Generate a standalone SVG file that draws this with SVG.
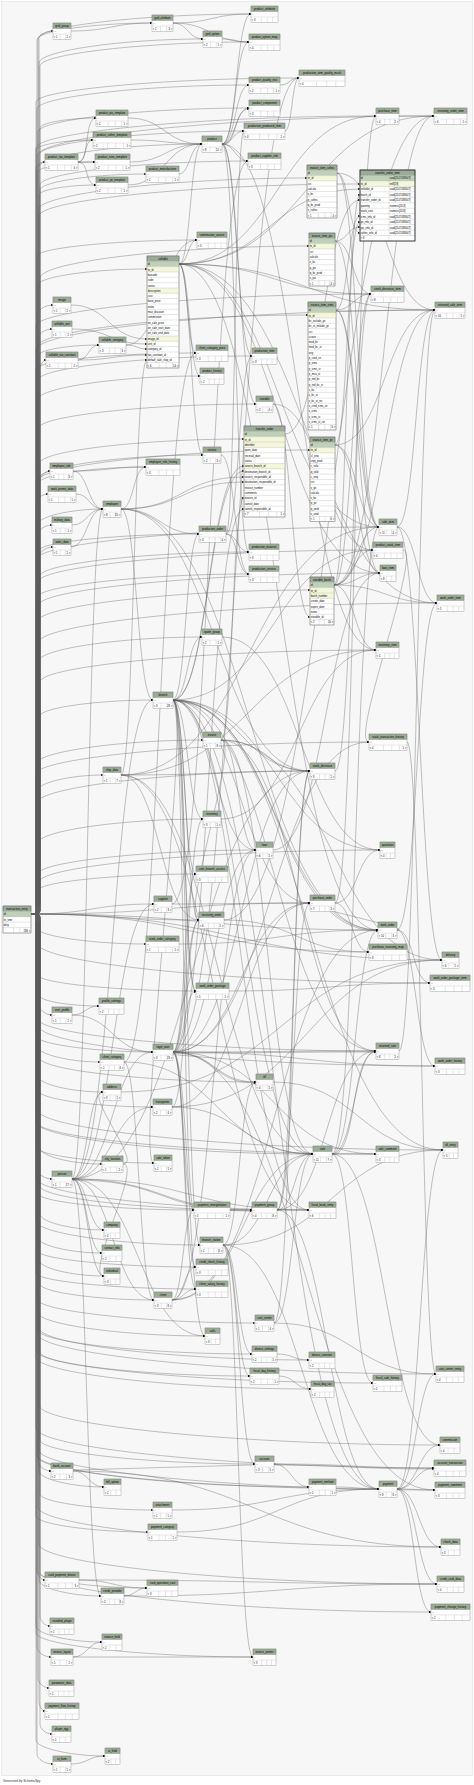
<svg xmlns="http://www.w3.org/2000/svg" width="474" height="1785" viewBox="0 0 474 1785">
<style>
.b{fill:#fff;stroke:#6f6f6f;stroke-width:.3}
.h{fill:#9bab96;stroke:#6f6f6f;stroke-width:.3}
.pk{fill:#bed1b8}
.ix{fill:#f4f7da}
.d{fill:none;stroke:#999;stroke-width:.25}
text{font-family:"Liberation Sans",Arial,sans-serif;font-size:2.6px;fill:#000}
.tn{font-size:2.8px;text-anchor:middle}
.r{text-anchor:end}
.e path{fill:none;stroke:#5e5e5e;stroke-width:.38;marker-end:url(#m)}
</style>
<defs>
<marker id="m" viewBox="0 0 4 4" refX="4" refY="2" markerWidth="2.3" markerHeight="2.3" markerUnits="userSpaceOnUse" orient="auto"><path d="M0,0L4,2L0,4z" fill="#000"/></marker>
</defs>
<rect width="474" height="1785" fill="#fff"/>
<rect x="1.5" y="1.5" width="471" height="1774" fill="#f7f7f7" stroke="#e2e2e2" stroke-width=".6"/>
<g id="edges" class="e">
<path d="M31,914C37,914 37,914 37,906L37,41C37,36 45,31 53,31"/>
<path d="M31,914C38,914 38,914 38,906L38,39C38,31 95,23 152,23"/>
<path d="M31,914C39,914 39,914 39,906L39,63C39,51 121,39 203,39"/>
<path d="M31,914C40,914 40,914 40,906L40,128C40,123 68,118 96,118"/>
<path d="M31,914C36,914 36,914 36,906L36,150C36,145 64,140 93,140"/>
<path d="M31,914C37,914 37,914 37,906L37,172C37,167 41,162 45,162"/>
<path d="M31,914C38,914 38,914 38,906L38,172C38,167 66,162 95,162"/>
<path d="M31,914C39,914 39,914 39,906L39,195C39,190 67,185 96,185"/>
<path d="M31,914C40,914 40,914 40,906L40,190C40,182 93,174 146,174"/>
<path d="M31,914C36,914 36,914 36,906L36,168C36,156 119,144 202,144"/>
<path d="M31,914C37,914 37,914 37,906L37,256C37,248 117,240 197,240"/>
<path d="M31,914C38,914 38,914 38,906L38,285C38,277 92,269 147,269"/>
<path d="M31,914C39,914 39,914 39,906L39,38C39,26 145,14 251,14"/>
<path d="M31,914C40,914 40,914 40,906L40,66C40,54 144,42 249,42"/>
<path d="M31,914C36,914 36,914 36,906L36,102C36,90 167,78 299,78"/>
<path d="M31,914C37,914 37,914 37,906L37,109C37,97 143,85 249,85"/>
<path d="M31,914C38,914 38,914 38,906L38,132C38,120 143,108 249,108"/>
<path d="M31,914C39,914 39,914 39,906L39,155C39,143 141,131 244,131"/>
<path d="M31,914C40,914 40,914 40,906L40,185C40,173 144,161 248,161"/>
<path d="M31,914C36,914 36,914 36,906L36,148C36,132 206,116 376,116"/>
<path d="M31,914C37,914 37,914 37,906L37,156C37,136 235,116 434,116"/>
<path d="M31,914C38,914 38,914 38,906L38,210C38,194 172,178 307,178"/>
<path d="M31,914C39,914 39,914 39,906L39,216C39,200 199,184 360,184"/>
<path d="M31,914C40,914 40,914 40,906L40,278C40,262 174,246 309,246"/>
<path d="M31,914C36,914 36,914 36,906L36,326C36,310 203,294 371,294"/>
<path d="M31,914C37,914 37,914 37,906L37,315C37,310 45,305 53,305"/>
<path d="M31,914C38,914 38,914 38,906L38,339C38,334 45,329 52,329"/>
<path d="M31,914C39,914 39,914 39,906L39,355C39,350 69,345 99,345"/>
<path d="M31,914C40,914 40,914 40,906L40,370C40,365 43,360 46,360"/>
<path d="M31,914C36,914 36,914 36,906L36,369C36,361 116,353 196,353"/>
<path d="M31,914C37,914 37,914 37,906L37,400C37,388 118,376 200,376"/>
<path d="M31,914C38,914 38,914 38,906L38,479C38,467 120,455 203,455"/>
<path d="M31,914C39,914 39,914 39,906L39,483C39,475 92,467 146,467"/>
<path d="M31,914C40,914 40,914 40,906L40,481C40,476 45,471 50,471"/>
<path d="M31,914C36,914 36,914 36,906L36,504C36,499 42,494 48,494"/>
<path d="M31,914C37,914 37,914 37,906L37,525C37,517 70,509 103,509"/>
<path d="M31,914C38,914 38,914 38,906L38,535C38,530 45,525 52,525"/>
<path d="M31,914C39,914 39,914 39,906L39,557C39,552 46,547 53,547"/>
<path d="M31,914C40,914 40,914 40,906L40,550C40,542 120,534 199,534"/>
<path d="M31,914C36,914 36,914 36,906L36,350C36,330 236,310 435,310"/>
<path d="M31,914C37,914 37,914 37,906L37,347C37,331 173,315 308,315"/>
<path d="M31,914C38,914 38,914 38,906L38,380C38,368 145,356 252,356"/>
<path d="M31,914C39,914 39,914 39,906L39,428C39,416 148,404 256,404"/>
<path d="M31,914C40,914 40,914 40,906L40,463C40,451 142,439 244,439"/>
<path d="M31,914C36,914 36,914 36,906L36,482C36,466 173,450 310,450"/>
<path d="M31,914C37,914 37,914 37,906L37,559C37,543 208,527 379,527"/>
<path d="M31,914C38,914 38,914 38,906L38,582C38,566 206,550 373,550"/>
<path d="M31,914C39,914 39,914 39,906L39,605C39,589 210,573 380,573"/>
<path d="M31,914C40,914 40,914 40,906L40,576C40,564 145,552 249,552"/>
<path d="M31,914C36,914 36,914 36,906L36,598C36,586 143,574 249,574"/>
<path d="M31,914C37,914 37,914 37,906L37,622C37,606 174,590 310,590"/>
<path d="M31,914C38,914 38,914 38,906L38,643C38,623 238,603 437,603"/>
<path d="M31,914C39,914 39,914 39,906L39,661C39,649 121,637 202,637"/>
<path d="M31,914C40,914 40,914 40,906L40,716C40,708 97,700 153,700"/>
<path d="M31,914C36,914 36,914 36,906L36,764C36,752 120,740 203,740"/>
<path d="M31,914C37,914 37,914 37,906L37,791C37,783 70,775 103,775"/>
<path d="M31,914C38,914 38,914 38,906L38,843C38,831 121,819 203,819"/>
<path d="M31,914C39,914 39,914 39,906L39,890C39,882 118,874 196,874"/>
<path d="M31,914C92,914 92,904 154,904"/>
<path d="M31,914C40,914 40,914 40,906L40,682C40,666 208,650 376,650"/>
<path d="M31,914C36,914 36,914 36,906L36,774C36,758 203,742 369,742"/>
<path d="M31,914C37,914 37,914 37,906L37,803C37,787 174,771 310,771"/>
<path d="M31,914C38,914 38,914 38,906L38,874C38,862 147,850 256,850"/>
<path d="M31,914C39,914 39,914 39,906L39,882C39,866 210,850 380,850"/>
<path d="M31,914C170,914 170,903 310,903"/>
<path d="M31,914C115,914 115,920 199,920"/>
<path d="M31,914C37,914 37,914 37,922L37,928C37,936 92,944 146,944"/>
<path d="M31,914C38,914 38,914 38,922L38,975C38,983 117,991 196,991"/>
<path d="M31,914C39,914 39,914 39,922L39,1005C39,1010 46,1015 52,1015"/>
<path d="M31,914C40,914 40,914 40,922L40,996C40,1001 70,1006 99,1006"/>
<path d="M31,914C36,914 36,914 36,922L36,1036C36,1044 95,1052 153,1052"/>
<path d="M31,914C37,914 37,914 37,922L37,1046C37,1054 69,1062 100,1062"/>
<path d="M31,914C38,914 38,914 38,922L38,1076C38,1084 71,1092 103,1092"/>
<path d="M31,914C39,914 39,914 39,922L39,1091C39,1099 96,1107 153,1107"/>
<path d="M31,914C40,914 40,914 40,922L40,1148C40,1156 71,1164 102,1164"/>
<path d="M31,914C36,914 36,914 36,922L36,1147C36,1155 95,1163 154,1163"/>
<path d="M31,914C37,914 37,914 37,922L37,1169C37,1174 45,1179 52,1179"/>
<path d="M31,914C205,914 205,930 378,930"/>
<path d="M31,914C200,914 200,952 369,952"/>
<path d="M31,914C237,914 237,960 442,960"/>
<path d="M31,914C37,914 37,914 37,922L37,943C37,963 234,983 430,983"/>
<path d="M31,914C38,914 38,914 38,922L38,1019C38,1035 207,1051 376,1051"/>
<path d="M31,914C39,914 39,914 39,922L39,1026C39,1046 237,1066 435,1066"/>
<path d="M31,914C40,914 40,914 40,922L40,1058C40,1070 148,1082 256,1082"/>
<path d="M31,914C36,914 36,914 36,922L36,1122C36,1138 175,1154 313,1154"/>
<path d="M31,914C37,914 37,914 37,922L37,1122C37,1138 207,1154 376,1154"/>
<path d="M31,914C38,914 38,914 38,922L38,1110C38,1130 241,1150 443,1150"/>
<path d="M31,914C39,914 39,914 39,922L39,1194C39,1202 117,1210 194,1210"/>
<path d="M31,914C40,914 40,914 40,922L40,1214C40,1222 72,1230 104,1230"/>
<path d="M31,914C36,914 36,914 36,922L36,1221C36,1233 118,1245 200,1245"/>
<path d="M31,914C37,914 37,914 37,922L37,1237C37,1245 70,1253 102,1253"/>
<path d="M31,914C38,914 38,914 38,922L38,1251C38,1259 117,1267 196,1267"/>
<path d="M31,914C39,914 39,914 39,922L39,1260C39,1268 72,1276 104,1276"/>
<path d="M31,914C40,914 40,914 40,922L40,1284C40,1292 97,1300 154,1300"/>
<path d="M31,914C36,914 36,914 36,922L36,1273C36,1281 116,1289 196,1289"/>
<path d="M31,914C37,914 37,914 37,922L37,1312C37,1324 121,1336 205,1336"/>
<path d="M31,914C38,914 38,914 38,922L38,1461C38,1466 45,1471 51,1471"/>
<path d="M31,914C39,914 39,914 39,922L39,1471C39,1479 72,1487 104,1487"/>
<path d="M31,914C40,914 40,914 40,922L40,1186C40,1198 146,1210 252,1210"/>
<path d="M31,914C36,914 36,914 36,922L36,1178C36,1194 173,1210 309,1210"/>
<path d="M31,914C37,914 37,914 37,922L37,1299C37,1311 146,1323 255,1323"/>
<path d="M31,914C38,914 38,914 38,922L38,1330C38,1342 145,1354 252,1354"/>
<path d="M31,914C39,914 39,914 39,922L39,1328C39,1344 174,1360 309,1360"/>
<path d="M31,914C40,914 40,914 40,922L40,1352C40,1364 145,1376 250,1376"/>
<path d="M31,914C36,914 36,914 36,922L36,1357C36,1373 174,1389 311,1389"/>
<path d="M31,914C37,914 37,914 37,922L37,1351C37,1367 205,1383 373,1383"/>
<path d="M31,914C38,914 38,914 38,922L38,1334C38,1354 237,1374 436,1374"/>
<path d="M31,914C39,914 39,914 39,922L39,1405C39,1425 240,1445 440,1445"/>
<path d="M31,914C40,914 40,914 40,922L40,1440C40,1452 148,1464 255,1464"/>
<path d="M31,914C36,914 36,914 36,922L36,1428C36,1448 235,1468 434,1468"/>
<path d="M31,914C37,914 37,914 37,922L37,1455C37,1471 173,1487 309,1487"/>
<path d="M31,914C38,914 38,914 38,922L38,1457C38,1473 209,1489 379,1489"/>
<path d="M31,914C39,914 39,914 39,922L39,1450C39,1470 237,1490 435,1490"/>
<path d="M31,914C40,914 40,914 40,922L40,1494C40,1502 97,1510 153,1510"/>
<path d="M31,914C36,914 36,914 36,922L36,1516C36,1524 92,1532 148,1532"/>
<path d="M31,914C37,914 37,914 37,922L37,1570C37,1575 41,1580 45,1580"/>
<path d="M31,914C38,914 38,914 38,922L38,1572C38,1580 93,1588 147,1588"/>
<path d="M31,914C39,914 39,914 39,922L39,1580C39,1588 70,1596 101,1596"/>
<path d="M31,914C40,914 40,914 40,922L40,1616C40,1621 45,1626 50,1626"/>
<path d="M31,914C36,914 36,914 36,922L36,1626C36,1634 69,1642 102,1642"/>
<path d="M31,914C37,914 37,914 37,922L37,1647C37,1652 44,1657 51,1657"/>
<path d="M31,914C38,914 38,914 38,922L38,1678C38,1683 44,1688 49,1688"/>
<path d="M31,914C39,914 39,914 39,922L39,1701C39,1706 42,1711 45,1711"/>
<path d="M31,914C40,914 40,914 40,922L40,1724C40,1729 46,1734 52,1734"/>
<path d="M31,914C36,914 36,914 36,922L36,1740C36,1748 71,1756 105,1756"/>
<path d="M31,914C37,914 37,914 37,922L37,1754C37,1759 45,1764 53,1764"/>
<path d="M31,914C38,914 38,914 38,922L38,1507C38,1527 240,1547 441,1547"/>
<path d="M31,914C39,914 39,914 39,922L39,1544C39,1564 238,1584 437,1584"/>
<path d="M31,914C40,914 40,914 40,922L40,1572C40,1592 236,1612 431,1612"/>
<path d="M31,914C36,914 36,914 36,922L36,1633C36,1645 145,1657 253,1657"/>
<path d="M71,31C111,31 112,23 152,23"/>
<path d="M173,23C188,23 188,39 203,39"/>
<path d="M173,23C212,23 212,14 251,14"/>
<path d="M173,23C211,23 211,42 249,42"/>
<path d="M222,39C236,39 236,42 249,42"/>
<path d="M222,144C237,144 236,14 251,14"/>
<path d="M222,144C236,144 235,42 249,42"/>
<path d="M222,144C236,144 235,85 249,85"/>
<path d="M222,144C236,144 235,108 249,108"/>
<path d="M222,145C238,145 233,109 249,109"/>
<path d="M222,144C233,144 233,131 244,131"/>
<path d="M222,144C235,144 235,161 248,161"/>
<path d="M222,144C237,144 237,356 252,356"/>
<path d="M222,144C239,144 239,404 256,404"/>
<path d="M222,144C236,144 235,552 249,552"/>
<path d="M222,144C299,144 299,650 376,650"/>
<path d="M78,162C90,162 84,118 96,118"/>
<path d="M78,162C88,162 83,140 93,140"/>
<path d="M78,162C87,162 86,162 95,162"/>
<path d="M78,162C90,162 84,185 96,185"/>
<path d="M128,118C165,118 165,144 202,144"/>
<path d="M131,140C166,140 167,144 202,144"/>
<path d="M130,162C166,162 166,144 202,144"/>
<path d="M128,185C165,185 165,144 202,144"/>
<path d="M179,174C190,174 190,144 202,144"/>
<path d="M179,264C191,264 190,144 202,144"/>
<path d="M179,264C188,264 188,240 197,240"/>
<path d="M179,264C188,264 187,353 196,353"/>
<path d="M179,264C190,264 189,376 200,376"/>
<path d="M179,264C191,264 191,455 203,455"/>
<path d="M179,264C277,264 278,116 376,116"/>
<path d="M179,264C306,264 307,116 434,116"/>
<path d="M179,264C270,264 270,189 360,189"/>
<path d="M179,264C275,264 275,294 371,294"/>
<path d="M179,264C307,264 307,310 435,310"/>
<path d="M179,264C279,264 279,527 379,527"/>
<path d="M179,264C280,264 280,573 380,573"/>
<path d="M179,264C308,264 308,603 437,603"/>
<path d="M179,264C279,264 278,930 378,930"/>
<path d="M71,305C109,305 109,339 147,339"/>
<path d="M72,329C110,329 109,344 147,344"/>
<path d="M126,345C137,345 137,349 147,349"/>
<path d="M78,360C113,360 112,355 147,355"/>
<path d="M78,360C89,360 88,345 99,345"/>
<path d="M121,775C134,775 134,360 147,360"/>
<path d="M126,345C162,345 161,240 197,240"/>
<path d="M285,131C292,131 292,78 299,78"/>
<path d="M280,85C290,85 289,78 299,78"/>
<path d="M399,116C417,116 417,116 434,116"/>
<path d="M337,173C349,173 348,233 360,233"/>
<path d="M335,241C348,241 347,227 360,227"/>
<path d="M336,310C348,310 348,216 360,216"/>
<path d="M335,445C348,445 347,222 360,222"/>
<path d="M285,434C322,434 323,200 360,200"/>
<path d="M334,585C347,585 347,195 360,195"/>
<path d="M273,404C291,404 292,617 310,617"/>
<path d="M273,404C323,404 323,550 373,550"/>
<path d="M334,585C356,585 357,527 379,527"/>
<path d="M334,585C353,585 353,550 373,550"/>
<path d="M334,585C357,585 357,573 380,573"/>
<path d="M334,585C355,585 355,650 376,650"/>
<path d="M334,585C352,585 353,294 371,294"/>
<path d="M334,585C384,585 385,310 435,310"/>
<path d="M334,585C384,585 384,116 434,116"/>
<path d="M334,585C385,585 386,603 437,603"/>
<path d="M336,310C357,310 358,527 379,527"/>
<path d="M336,311C386,311 385,310 435,310"/>
<path d="M336,310C353,310 354,294 371,294"/>
<path d="M336,310C358,310 358,573 380,573"/>
<path d="M335,445C357,445 357,527 379,527"/>
<path d="M335,445C385,445 385,310 435,310"/>
<path d="M335,445C357,445 358,573 380,573"/>
<path d="M335,241C357,241 357,527 379,527"/>
<path d="M335,241C353,241 353,294 371,294"/>
<path d="M337,173C358,173 358,527 379,527"/>
<path d="M337,173C386,173 386,310 435,310"/>
<path d="M397,527C416,527 416,310 435,310"/>
<path d="M397,527C417,527 417,603 437,603"/>
<path d="M397,527C420,527 420,960 442,960"/>
<path d="M403,550C423,550 349,742 369,742"/>
<path d="M73,471C110,471 109,467 146,467"/>
<path d="M73,471C88,471 88,509 103,509"/>
<path d="M76,494C90,494 89,509 103,509"/>
<path d="M72,525C88,525 87,509 103,509"/>
<path d="M71,547C87,547 87,509 103,509"/>
<path d="M121,509C134,509 133,467 146,467"/>
<path d="M121,509C160,509 160,534 199,534"/>
<path d="M121,509C183,509 182,477 244,477"/>
<path d="M121,509C183,509 182,482 244,482"/>
<path d="M121,509C216,509 215,771 310,771"/>
<path d="M121,509C137,509 137,700 153,700"/>
<path d="M121,509C250,509 249,930 378,930"/>
<path d="M226,534C235,534 235,131 244,131"/>
<path d="M226,534C239,534 239,356 252,356"/>
<path d="M226,534C238,534 237,552 249,552"/>
<path d="M226,534C238,534 237,574 249,574"/>
<path d="M221,455C235,455 235,574 249,574"/>
<path d="M173,700C209,700 208,466 244,466"/>
<path d="M173,700C209,700 208,471 244,471"/>
<path d="M173,700C273,700 273,550 373,550"/>
<path d="M173,700C188,700 187,637 202,637"/>
<path d="M173,700C188,700 188,819 203,819"/>
<path d="M173,700C185,700 184,874 196,874"/>
<path d="M173,700C242,700 241,771 310,771"/>
<path d="M173,700C215,700 214,850 256,850"/>
<path d="M173,700C277,700 276,850 380,850"/>
<path d="M173,700C242,700 241,903 310,903"/>
<path d="M173,700C186,700 186,920 199,920"/>
<path d="M173,700C185,700 184,991 196,991"/>
<path d="M173,701C187,701 182,992 196,992"/>
<path d="M173,700C243,700 243,1154 313,1154"/>
<path d="M173,700C275,700 274,1051 376,1051"/>
<path d="M173,700C276,700 275,930 378,930"/>
<path d="M173,701C280,701 270,931 378,931"/>
<path d="M173,700C187,700 186,1245 200,1245"/>
<path d="M173,700C276,700 276,1489 379,1489"/>
<path d="M173,700C241,700 241,1210 309,1210"/>
<path d="M173,700C184,700 183,1210 194,1210"/>
<path d="M173,700C186,700 186,534 199,534"/>
<path d="M173,700C193,700 134,1163 154,1163"/>
<path d="M173,700C308,700 308,1150 443,1150"/>
<path d="M221,740C233,740 232,498 244,498"/>
<path d="M221,740C267,740 267,1154 313,1154"/>
<path d="M221,740C266,740 265,771 310,771"/>
<path d="M221,740C239,740 238,850 256,850"/>
<path d="M221,740C299,740 298,1051 376,1051"/>
<path d="M221,740C332,740 331,960 442,960"/>
<path d="M221,740C241,740 179,920 199,920"/>
<path d="M121,775C217,775 217,1154 313,1154"/>
<path d="M121,775C216,775 215,771 310,771"/>
<path d="M121,775C160,775 160,920 199,920"/>
<path d="M121,775C249,775 248,650 376,650"/>
<path d="M121,775C215,775 215,1210 309,1210"/>
<path d="M121,775C250,775 250,527 379,527"/>
<path d="M221,819C299,819 298,650 376,650"/>
<path d="M172,904C241,904 241,903 310,903"/>
<path d="M172,904C210,904 210,161 248,161"/>
<path d="M222,637C301,637 301,850 380,850"/>
<path d="M335,903C356,903 355,116 376,116"/>
<path d="M335,903C358,903 357,850 380,850"/>
<path d="M335,903C352,903 352,952 369,952"/>
<path d="M224,920C329,920 329,116 434,116"/>
<path d="M224,920C297,920 296,952 369,952"/>
<path d="M335,771C353,771 353,294 371,294"/>
<path d="M273,850C327,850 326,573 380,573"/>
<path d="M179,944C279,944 278,930 378,930"/>
<path d="M229,991C330,991 329,983 430,983"/>
<path d="M397,930C417,930 417,603 437,603"/>
<path d="M397,930C414,930 413,983 430,983"/>
<path d="M397,930C416,930 416,1066 435,1066"/>
<path d="M397,930C417,930 290,903 310,903"/>
<path d="M72,1015C86,1015 85,1006 99,1006"/>
<path d="M72,1015C113,1015 112,1052 153,1052"/>
<path d="M173,1052C188,1052 188,819 203,819"/>
<path d="M173,1052C185,1052 184,874 196,874"/>
<path d="M173,1052C242,1052 241,771 310,771"/>
<path d="M173,1052C209,1052 208,509 244,509"/>
<path d="M173,1052C275,1052 274,1051 376,1051"/>
<path d="M173,1053C275,1053 274,1052 376,1052"/>
<path d="M173,1052C304,1052 304,1066 435,1066"/>
<path d="M173,1052C275,1052 274,1154 376,1154"/>
<path d="M173,1052C304,1052 304,1490 435,1490"/>
<path d="M173,1052C215,1052 214,1082 256,1082"/>
<path d="M173,1053C218,1053 211,1083 256,1083"/>
<path d="M173,1052C189,1052 189,1336 205,1336"/>
<path d="M173,1052C185,1052 184,1267 196,1267"/>
<path d="M173,1052C185,1052 184,1289 196,1289"/>
<path d="M173,1052C236,1052 236,78 299,78"/>
<path d="M173,1052C271,1052 271,742 369,742"/>
<path d="M173,1052C242,1052 241,903 310,903"/>
<path d="M173,1052C186,1052 186,920 199,920"/>
<path d="M173,1052C215,1052 214,850 256,850"/>
<path d="M173,1052C184,1052 183,1210 194,1210"/>
<path d="M173,1052C185,1052 184,991 196,991"/>
<path d="M124,1062C160,1062 160,353 196,353"/>
<path d="M124,1062C139,1062 139,1300 154,1300"/>
<path d="M124,1062C219,1062 218,1154 313,1154"/>
<path d="M121,1092C282,1092 281,960 442,960"/>
<path d="M123,1164C143,1164 83,1092 103,1092"/>
<path d="M123,1164C143,1164 84,1276 104,1276"/>
<path d="M172,1107C241,1107 241,903 310,903"/>
<path d="M172,1107C186,1107 185,920 199,920"/>
<path d="M172,1107C243,1107 242,1154 313,1154"/>
<path d="M172,1107C307,1107 307,960 442,960"/>
<path d="M72,1179C88,1179 87,509 103,509"/>
<path d="M72,1179C113,1179 113,904 154,904"/>
<path d="M72,1179C113,1179 112,700 153,700"/>
<path d="M72,1179C113,1179 112,1052 153,1052"/>
<path d="M72,1179C88,1179 87,1092 103,1092"/>
<path d="M72,1179C113,1179 112,1107 153,1107"/>
<path d="M72,1179C88,1179 88,1230 104,1230"/>
<path d="M72,1179C87,1179 87,1253 102,1253"/>
<path d="M72,1179C88,1179 88,1276 104,1276"/>
<path d="M72,1179C113,1179 113,1300 154,1300"/>
<path d="M72,1179C139,1179 138,1336 205,1336"/>
<path d="M72,1179C162,1179 162,1210 252,1210"/>
<path d="M72,1180C165,1180 159,1211 252,1211"/>
<path d="M72,1179C87,1179 86,1596 101,1596"/>
<path d="M72,1179C191,1179 191,771 310,771"/>
<path d="M72,1179C191,1179 190,1210 309,1210"/>
<path d="M172,1300C243,1300 242,1154 313,1154"/>
<path d="M172,1300C214,1300 214,850 256,850"/>
<path d="M172,1300C275,1300 275,930 378,930"/>
<path d="M172,1300C183,1300 183,1210 194,1210"/>
<path d="M172,1300C184,1300 184,1267 196,1267"/>
<path d="M172,1300C184,1300 184,1289 196,1289"/>
<path d="M332,1154C356,1154 355,527 379,527"/>
<path d="M332,1154C354,1154 354,1154 376,1154"/>
<path d="M332,1154C354,1154 354,1051 376,1051"/>
<path d="M332,1155C358,1155 350,1052 376,1052"/>
<path d="M332,1154C353,1154 352,1383 373,1383"/>
<path d="M332,1154C386,1154 386,1445 440,1445"/>
<path d="M332,1154C355,1154 355,930 378,930"/>
<path d="M399,1051C417,1051 417,310 435,310"/>
<path d="M273,1082C358,1082 358,1150 443,1150"/>
<path d="M223,1245C240,1245 239,1082 256,1082"/>
<path d="M223,1245C238,1245 237,1354 252,1354"/>
<path d="M223,1245C237,1245 236,1376 250,1376"/>
<path d="M223,1245C238,1245 238,1657 253,1657"/>
<path d="M223,1245C239,1245 239,1464 255,1464"/>
<path d="M223,1245C301,1245 301,1489 379,1489"/>
<path d="M223,1245C333,1245 333,1150 443,1150"/>
<path d="M223,1245C268,1245 268,1154 313,1154"/>
<path d="M277,1210C328,1210 328,1489 379,1489"/>
<path d="M277,1210C295,1210 295,1154 313,1154"/>
<path d="M277,1210C294,1210 293,903 310,903"/>
<path d="M277,1210C294,1210 293,771 310,771"/>
<path d="M277,1210C327,1210 326,1051 376,1051"/>
<path d="M277,1210C293,1210 293,1210 309,1210"/>
<path d="M230,1210C241,1210 241,1210 252,1210"/>
<path d="M274,1323C355,1323 355,1374 436,1374"/>
<path d="M274,1323C293,1323 293,1154 313,1154"/>
<path d="M274,1323C292,1323 292,771 310,771"/>
<path d="M277,1354C293,1354 293,1360 309,1360"/>
<path d="M279,1376C295,1376 295,1389 311,1389"/>
<path d="M274,1464C354,1464 354,1468 434,1468"/>
<path d="M274,1465C356,1465 352,1469 434,1469"/>
<path d="M274,1464C291,1464 292,1487 309,1487"/>
<path d="M274,1464C300,1464 25,1471 51,1471"/>
<path d="M73,1471C88,1471 89,1487 104,1487"/>
<path d="M73,1471C257,1471 257,1547 441,1547"/>
<path d="M336,1487C357,1487 358,1489 379,1489"/>
<path d="M397,1489C416,1489 416,1490 435,1490"/>
<path d="M397,1489C419,1489 419,1547 441,1547"/>
<path d="M397,1489C417,1489 417,1584 437,1584"/>
<path d="M397,1489C414,1489 414,1612 431,1612"/>
<path d="M397,1489C418,1489 419,1445 440,1445"/>
<path d="M397,1489C415,1489 416,1468 434,1468"/>
<path d="M397,1489C420,1489 420,1150 443,1150"/>
<path d="M397,1489C416,1489 417,1374 436,1374"/>
<path d="M172,1510C275,1510 276,1489 379,1489"/>
<path d="M177,1532C278,1532 278,1489 379,1489"/>
<path d="M79,1580C113,1580 113,1588 147,1588"/>
<path d="M79,1580C258,1580 258,1584 437,1584"/>
<path d="M124,1596C135,1596 136,1588 147,1588"/>
<path d="M124,1596C280,1596 281,1584 437,1584"/>
<path d="M73,1657C87,1657 88,1642 102,1642"/>
<path d="M73,1657C163,1657 163,1657 253,1657"/>
<path d="M71,1764C88,1764 88,1756 105,1756"/>
<path d="M407,742C421,742 422,1374 436,1374"/>
</g>
<g id="nodes">
<g id="grid_group" transform="translate(53,23)"><rect class="b" width="18" height="16.5"/><rect class="h" width="18" height="5.5"/><path class="d" d="M0,11H18M7.2,11V16.5M12.6,11V16.5"/><text class="tn" x="9" y="4.1">grid_group</text><text x=".8" y="9.3">...</text><text x=".8" y="15">&lt; 1</text><text class="r" x="17.2" y="15">2 &gt;</text></g>
<g id="grid_attribute" transform="translate(152,15)"><rect class="b" width="21" height="16.5"/><rect class="h" width="21" height="5.5"/><path class="d" d="M0,11H21M8.4,11V16.5M14.7,11V16.5"/><text class="tn" x="10.5" y="4.1">grid_attribute</text><text x=".8" y="9.3">...</text><text x=".8" y="15">&lt; 2</text><text class="r" x="20.2" y="15">3 &gt;</text></g>
<g id="grid_option" transform="translate(203,31)"><rect class="b" width="19" height="16.5"/><rect class="h" width="19" height="5.5"/><path class="d" d="M0,11H19M7.6,11V16.5M13.3,11V16.5"/><text class="tn" x="9.5" y="4.1">grid_option</text><text x=".8" y="9.3">...</text><text x=".8" y="15">&lt; 2</text><text class="r" x="18.2" y="15">1 &gt;</text></g>
<g id="product_pis_template" transform="translate(96,110)"><rect class="b" width="32" height="16.5"/><rect class="h" width="32" height="5.5"/><path class="d" d="M0,11H32M12.2,11V16.5M19.2,11V16.5M25.6,11V16.5"/><text class="tn" x="16" y="4.1">product_pis_template</text><text x=".8" y="9.3">...</text><text x=".8" y="15">&lt; 2</text><text class="r" x="31.2" y="15">1 &gt;</text></g>
<g id="product_cofins_template" transform="translate(93,132)"><rect class="b" width="38" height="16.5"/><rect class="h" width="38" height="5.5"/><path class="d" d="M0,11H38M14.4,11V16.5M22.8,11V16.5M30.4,11V16.5"/><text class="tn" x="19" y="4.1">product_cofins_template</text><text x=".8" y="9.3">...</text><text x=".8" y="15">&lt; 2</text><text class="r" x="37.2" y="15">1 &gt;</text></g>
<g id="product_tax_template" transform="translate(45,154)"><rect class="b" width="33" height="16.5"/><rect class="h" width="33" height="5.5"/><path class="d" d="M0,11H33M12.5,11V16.5M19.8,11V16.5M26.4,11V16.5"/><text class="tn" x="16.5" y="4.1">product_tax_template</text><text x=".8" y="9.3">...</text><text x=".8" y="15">&lt; 1</text><text class="r" x="32.2" y="15">4 &gt;</text></g>
<g id="product_icms_template" transform="translate(95,154)"><rect class="b" width="35" height="16.5"/><rect class="h" width="35" height="5.5"/><path class="d" d="M0,11H35M13.3,11V16.5M21,11V16.5M28,11V16.5"/><text class="tn" x="17.5" y="4.1">product_icms_template</text><text x=".8" y="9.3">...</text><text x=".8" y="15">&lt; 2</text><text class="r" x="34.2" y="15">1 &gt;</text></g>
<g id="product_ipi_template" transform="translate(96,177)"><rect class="b" width="32" height="16.5"/><rect class="h" width="32" height="5.5"/><path class="d" d="M0,11H32M12.2,11V16.5M19.2,11V16.5M25.6,11V16.5"/><text class="tn" x="16" y="4.1">product_ipi_template</text><text x=".8" y="9.3">...</text><text x=".8" y="15">&lt; 2</text><text class="r" x="31.2" y="15">1 &gt;</text></g>
<g id="product_manufacturer" transform="translate(146,166)"><rect class="b" width="33" height="16.5"/><rect class="h" width="33" height="5.5"/><path class="d" d="M0,11H33M12.5,11V16.5M19.8,11V16.5M26.4,11V16.5"/><text class="tn" x="16.5" y="4.1">product_manufacturer</text><text x=".8" y="9.3">...</text><text x=".8" y="15">&lt; 1</text><text class="r" x="32.2" y="15">1 &gt;</text></g>
<g id="product" transform="translate(202,136)"><rect class="b" width="20" height="16.5"/><rect class="h" width="20" height="5.5"/><path class="d" d="M0,11H20M8,11V16.5M14,11V16.5"/><text class="tn" x="10" y="4.1">product</text><text x=".8" y="9.3">...</text><text x=".8" y="15">&lt; 8</text><text class="r" x="19.2" y="15">12 &gt;</text></g>
<g id="commission_source" transform="translate(197,232)"><rect class="b" width="30" height="16.5"/><rect class="h" width="30" height="5.5"/><path class="d" d="M0,11H30M11.4,11V16.5M18,11V16.5M24,11V16.5"/><text class="tn" x="15" y="4.1">commission_source</text><text x=".8" y="9.3">...</text><text x=".8" y="15">&lt; 3</text></g>
<g id="product_attribute" transform="translate(251,6)"><rect class="b" width="27" height="16.5"/><rect class="h" width="27" height="5.5"/><path class="d" d="M0,11H27M10.3,11V16.5M16.2,11V16.5M21.6,11V16.5"/><text class="tn" x="13.5" y="4.1">product_attribute</text><text x=".8" y="9.3">...</text><text x=".8" y="15">&lt; 3</text></g>
<g id="product_option_map" transform="translate(249,34)"><rect class="b" width="31" height="16.5"/><rect class="h" width="31" height="5.5"/><path class="d" d="M0,11H31M11.8,11V16.5M18.6,11V16.5M24.8,11V16.5"/><text class="tn" x="15.5" y="4.1">product_option_map</text><text x=".8" y="9.3">...</text><text x=".8" y="15">&lt; 4</text></g>
<g id="production_item_quality_result" transform="translate(299,70)"><rect class="b" width="46" height="16.5"/><rect class="h" width="46" height="5.5"/><path class="d" d="M0,11H46M17.5,11V16.5M27.6,11V16.5M36.8,11V16.5"/><text class="tn" x="23" y="4.1">production_item_quality_result</text><text x=".8" y="9.3">...</text><text x=".8" y="15">&lt; 4</text></g>
<g id="product_quality_test" transform="translate(249,77)"><rect class="b" width="31" height="16.5"/><rect class="h" width="31" height="5.5"/><path class="d" d="M0,11H31M11.8,11V16.5M18.6,11V16.5M24.8,11V16.5"/><text class="tn" x="15.5" y="4.1">product_quality_test</text><text x=".8" y="9.3">...</text><text x=".8" y="15">&lt; 2</text><text class="r" x="30.2" y="15">1 &gt;</text></g>
<g id="product_component" transform="translate(249,100)"><rect class="b" width="31" height="16.5"/><rect class="h" width="31" height="5.5"/><path class="d" d="M0,11H31M11.8,11V16.5M18.6,11V16.5M24.8,11V16.5"/><text class="tn" x="15.5" y="4.1">product_component</text><text x=".8" y="9.3">...</text><text x=".8" y="15">&lt; 3</text></g>
<g id="production_produced_item" transform="translate(244,123)"><rect class="b" width="41" height="16.5"/><rect class="h" width="41" height="5.5"/><path class="d" d="M0,11H41M15.6,11V16.5M24.6,11V16.5M32.8,11V16.5"/><text class="tn" x="20.5" y="4.1">production_produced_item</text><text x=".8" y="9.3">...</text><text x=".8" y="15">&lt; 4</text><text class="r" x="40.2" y="15">1 &gt;</text></g>
<g id="product_supplier_info" transform="translate(248,153)"><rect class="b" width="33" height="16.5"/><rect class="h" width="33" height="5.5"/><path class="d" d="M0,11H33M12.5,11V16.5M19.8,11V16.5M26.4,11V16.5"/><text class="tn" x="16.5" y="4.1">product_supplier_info</text><text x=".8" y="9.3">...</text><text x=".8" y="15">&lt; 3</text></g>
<g id="purchase_item" transform="translate(376,108)"><rect class="b" width="23" height="16.5"/><rect class="h" width="23" height="5.5"/><path class="d" d="M0,11H23M8.7,11V16.5M13.8,11V16.5M18.4,11V16.5"/><text class="tn" x="11.5" y="4.1">purchase_item</text><text x=".8" y="9.3">...</text><text x=".8" y="15">&lt; 4</text><text class="r" x="22.2" y="15">2 &gt;</text></g>
<g id="receiving_order_item" transform="translate(434,108)"><rect class="b" width="33" height="16.5"/><rect class="h" width="33" height="5.5"/><path class="d" d="M0,11H33M12.5,11V16.5M19.8,11V16.5M26.4,11V16.5"/><text class="tn" x="16.5" y="4.1">receiving_order_item</text><text x=".8" y="9.3">...</text><text x=".8" y="15">&lt; 6</text><text class="r" x="32.2" y="15">1 &gt;</text></g>
<g id="stock_decrease_item" transform="translate(371,286)"><rect class="b" width="33" height="16.5"/><rect class="h" width="33" height="5.5"/><path class="d" d="M0,11H33M12.5,11V16.5M19.8,11V16.5M26.4,11V16.5"/><text class="tn" x="16.5" y="4.1">stock_decrease_item</text><text x=".8" y="9.3">...</text><text x=".8" y="15">&lt; 8</text></g>
<g id="image" transform="translate(53,297)"><rect class="b" width="18" height="16.5"/><rect class="h" width="18" height="5.5"/><path class="d" d="M0,11H18M7.2,11V16.5M12.6,11V16.5"/><text class="tn" x="9" y="4.1">image</text><text x=".8" y="9.3">...</text><text x=".8" y="15">&lt; 1</text><text class="r" x="17.2" y="15">2 &gt;</text></g>
<g id="sellable_unit" transform="translate(52,321)"><rect class="b" width="20" height="16.5"/><rect class="h" width="20" height="5.5"/><path class="d" d="M0,11H20M8,11V16.5M14,11V16.5"/><text class="tn" x="10" y="4.1">sellable_unit</text><text x=".8" y="9.3">...</text><text x=".8" y="15">&lt; 1</text><text class="r" x="19.2" y="15">2 &gt;</text></g>
<g id="sellable_category" transform="translate(99,337)"><rect class="b" width="27" height="16.5"/><rect class="h" width="27" height="5.5"/><path class="d" d="M0,11H27M10.3,11V16.5M16.2,11V16.5M21.6,11V16.5"/><text class="tn" x="13.5" y="4.1">sellable_category</text><text x=".8" y="9.3">...</text><text x=".8" y="15">&lt; 3</text><text class="r" x="26.2" y="15">3 &gt;</text></g>
<g id="sellable_tax_constant" transform="translate(46,352)"><rect class="b" width="32" height="16.5"/><rect class="h" width="32" height="5.5"/><path class="d" d="M0,11H32M12.2,11V16.5M19.2,11V16.5M25.6,11V16.5"/><text class="tn" x="16" y="4.1">sellable_tax_constant</text><text x=".8" y="9.3">...</text><text x=".8" y="15">&lt; 1</text><text class="r" x="31.2" y="15">2 &gt;</text></g>
<g id="client_category_price" transform="translate(196,345)"><rect class="b" width="32" height="16.5"/><rect class="h" width="32" height="5.5"/><path class="d" d="M0,11H32M12.2,11V16.5M19.2,11V16.5M25.6,11V16.5"/><text class="tn" x="16" y="4.1">client_category_price</text><text x=".8" y="9.3">...</text><text x=".8" y="15">&lt; 3</text></g>
<g id="product_history" transform="translate(200,368)"><rect class="b" width="24" height="16.5"/><rect class="h" width="24" height="5.5"/><path class="d" d="M0,11H24M9.1,11V16.5M14.4,11V16.5M19.2,11V16.5"/><text class="tn" x="12" y="4.1">product_history</text><text x=".8" y="9.3">...</text><text x=".8" y="15">&lt; 2</text></g>
<g id="service" transform="translate(203,447)"><rect class="b" width="18" height="16.5"/><rect class="h" width="18" height="5.5"/><path class="d" d="M0,11H18M7.2,11V16.5M12.6,11V16.5"/><text class="tn" x="9" y="4.1">service</text><text x=".8" y="9.3">...</text><text x=".8" y="15">&lt; 2</text><text class="r" x="17.2" y="15">3 &gt;</text></g>
<g id="employee_role_history" transform="translate(146,459)"><rect class="b" width="34" height="16.5"/><rect class="h" width="34" height="5.5"/><path class="d" d="M0,11H34M12.9,11V16.5M20.4,11V16.5M27.2,11V16.5"/><text class="tn" x="17" y="4.1">employee_role_history</text><text x=".8" y="9.3">...</text><text x=".8" y="15">&lt; 3</text></g>
<g id="employee_role" transform="translate(50,463)"><rect class="b" width="23" height="16.5"/><rect class="h" width="23" height="5.5"/><path class="d" d="M0,11H23M8.7,11V16.5M13.8,11V16.5M18.4,11V16.5"/><text class="tn" x="11.5" y="4.1">employee_role</text><text x=".8" y="9.3">...</text><text x=".8" y="15">&lt; 1</text><text class="r" x="22.2" y="15">3 &gt;</text></g>
<g id="work_permit_data" transform="translate(48,486)"><rect class="b" width="28" height="16.5"/><rect class="h" width="28" height="5.5"/><path class="d" d="M0,11H28M10.6,11V16.5M16.8,11V16.5M22.4,11V16.5"/><text class="tn" x="14" y="4.1">work_permit_data</text><text x=".8" y="9.3">...</text><text x=".8" y="15">&lt; 1</text><text class="r" x="27.2" y="15">1 &gt;</text></g>
<g id="employee" transform="translate(103,501)"><rect class="b" width="18" height="16.5"/><rect class="h" width="18" height="5.5"/><path class="d" d="M0,11H18M7.2,11V16.5M12.6,11V16.5"/><text class="tn" x="9" y="4.1">employee</text><text x=".8" y="9.3">...</text><text x=".8" y="15">&lt; 8</text><text class="r" x="17.2" y="15">15 &gt;</text></g>
<g id="military_data" transform="translate(52,517)"><rect class="b" width="20" height="16.5"/><rect class="h" width="20" height="5.5"/><path class="d" d="M0,11H20M8,11V16.5M14,11V16.5"/><text class="tn" x="10" y="4.1">military_data</text><text x=".8" y="9.3">...</text><text x=".8" y="15">&lt; 1</text><text class="r" x="19.2" y="15">1 &gt;</text></g>
<g id="voter_data" transform="translate(53,539)"><rect class="b" width="18" height="16.5"/><rect class="h" width="18" height="5.5"/><path class="d" d="M0,11H18M7.2,11V16.5M12.6,11V16.5"/><text class="tn" x="9" y="4.1">voter_data</text><text x=".8" y="9.3">...</text><text x=".8" y="15">&lt; 1</text><text class="r" x="17.2" y="15">1 &gt;</text></g>
<g id="production_order" transform="translate(199,526)"><rect class="b" width="27" height="16.5"/><rect class="h" width="27" height="5.5"/><path class="d" d="M0,11H27M10.3,11V16.5M16.2,11V16.5M21.6,11V16.5"/><text class="tn" x="13.5" y="4.1">production_order</text><text x=".8" y="9.3">...</text><text x=".8" y="15">&lt; 3</text><text class="r" x="26.2" y="15">4 &gt;</text></g>
<g id="returned_sale_item" transform="translate(435,302)"><rect class="b" width="30" height="16.5"/><rect class="h" width="30" height="5.5"/><path class="d" d="M0,11H30M11.4,11V16.5M18,11V16.5M24,11V16.5"/><text class="tn" x="15" y="4.1">returned_sale_item</text><text x=".8" y="9.3">...</text><text x=".8" y="15">&lt; 10</text><text class="r" x="29.2" y="15">1 &gt;</text></g>
<g id="production_item" transform="translate(252,348)"><rect class="b" width="25" height="16.5"/><rect class="h" width="25" height="5.5"/><path class="d" d="M0,11H25M9.5,11V16.5M15,11V16.5M20,11V16.5"/><text class="tn" x="12.5" y="4.1">production_item</text><text x=".8" y="9.3">...</text><text x=".8" y="15">&lt; 3</text></g>
<g id="storable" transform="translate(256,396)"><rect class="b" width="17" height="16.5"/><rect class="h" width="17" height="5.5"/><path class="d" d="M0,11H17M6.8,11V16.5M11.9,11V16.5"/><text class="tn" x="8.5" y="4.1">storable</text><text x=".8" y="9.3">...</text><text x=".8" y="15">&lt; 2</text><text class="r" x="16.2" y="15">4 &gt;</text></g>
<g id="sale_item" transform="translate(379,519)"><rect class="b" width="18" height="16.5"/><rect class="h" width="18" height="5.5"/><path class="d" d="M0,11H18M7.2,11V16.5M12.6,11V16.5"/><text class="tn" x="9" y="4.1">sale_item</text><text x=".8" y="9.3">...</text><text x=".8" y="15">&lt; 11</text><text class="r" x="17.2" y="15">4 &gt;</text></g>
<g id="product_stock_item" transform="translate(373,542)"><rect class="b" width="30" height="16.5"/><rect class="h" width="30" height="5.5"/><path class="d" d="M0,11H30M11.4,11V16.5M18,11V16.5M24,11V16.5"/><text class="tn" x="15" y="4.1">product_stock_item</text><text x=".8" y="9.3">...</text><text x=".8" y="15">&lt; 4</text></g>
<g id="loan_item" transform="translate(380,565)"><rect class="b" width="16" height="16.5"/><rect class="h" width="16" height="5.5"/><path class="d" d="M0,11H16M6.4,11V16.5M11.2,11V16.5"/><text class="tn" x="8" y="4.1">loan_item</text><text x=".8" y="9.3">...</text><text x=".8" y="15">&lt; 8</text></g>
<g id="production_material" transform="translate(249,544)"><rect class="b" width="30" height="16.5"/><rect class="h" width="30" height="5.5"/><path class="d" d="M0,11H30M11.4,11V16.5M18,11V16.5M24,11V16.5"/><text class="tn" x="15" y="4.1">production_material</text><text x=".8" y="9.3">...</text><text x=".8" y="15">&lt; 3</text></g>
<g id="production_service" transform="translate(249,566)"><rect class="b" width="30" height="16.5"/><rect class="h" width="30" height="5.5"/><path class="d" d="M0,11H30M11.4,11V16.5M18,11V16.5M24,11V16.5"/><text class="tn" x="15" y="4.1">production_service</text><text x=".8" y="9.3">...</text><text x=".8" y="15">&lt; 3</text></g>
<g id="work_order_item" transform="translate(437,595)"><rect class="b" width="27" height="16.5"/><rect class="h" width="27" height="5.5"/><path class="d" d="M0,11H27M10.3,11V16.5M16.2,11V16.5M21.6,11V16.5"/><text class="tn" x="13.5" y="4.1">work_order_item</text><text x=".8" y="9.3">...</text><text x=".8" y="15">&lt; 5</text></g>
<g id="quote_group" transform="translate(202,629)"><rect class="b" width="20" height="16.5"/><rect class="h" width="20" height="5.5"/><path class="d" d="M0,11H20M8,11V16.5M14,11V16.5"/><text class="tn" x="10" y="4.1">quote_group</text><text x=".8" y="9.3">...</text><text x=".8" y="15">&lt; 2</text><text class="r" x="19.2" y="15">1 &gt;</text></g>
<g id="branch" transform="translate(153,692)"><rect class="b" width="20" height="16.5"/><rect class="h" width="20" height="5.5"/><path class="d" d="M0,11H20M8,11V16.5M14,11V16.5"/><text class="tn" x="10" y="4.1">branch</text><text x=".8" y="9.3">...</text><text x=".8" y="15">&lt; 3</text><text class="r" x="19.2" y="15">28 &gt;</text></g>
<g id="invoice" transform="translate(203,732)"><rect class="b" width="18" height="16.5"/><rect class="h" width="18" height="5.5"/><path class="d" d="M0,11H18M7.2,11V16.5M12.6,11V16.5"/><text class="tn" x="9" y="4.1">invoice</text><text x=".8" y="9.3">...</text><text x=".8" y="15">&lt; 1</text><text class="r" x="17.2" y="15">8 &gt;</text></g>
<g id="cfop_data" transform="translate(103,767)"><rect class="b" width="18" height="16.5"/><rect class="h" width="18" height="5.5"/><path class="d" d="M0,11H18M7.2,11V16.5M12.6,11V16.5"/><text class="tn" x="9" y="4.1">cfop_data</text><text x=".8" y="9.3">...</text><text x=".8" y="15">&lt; 1</text><text class="r" x="17.2" y="15">7 &gt;</text></g>
<g id="inventory" transform="translate(203,811)"><rect class="b" width="18" height="16.5"/><rect class="h" width="18" height="5.5"/><path class="d" d="M0,11H18M7.2,11V16.5M12.6,11V16.5"/><text class="tn" x="9" y="4.1">inventory</text><text x=".8" y="9.3">...</text><text x=".8" y="15">&lt; 3</text><text class="r" x="17.2" y="15">1 &gt;</text></g>
<g id="user_branch_access" transform="translate(196,866)"><rect class="b" width="32" height="16.5"/><rect class="h" width="32" height="5.5"/><path class="d" d="M0,11H32M12.2,11V16.5M19.2,11V16.5M25.6,11V16.5"/><text class="tn" x="16" y="4.1">user_branch_access</text><text x=".8" y="9.3">...</text><text x=".8" y="15">&lt; 3</text></g>
<g id="supplier" transform="translate(154,896)"><rect class="b" width="18" height="16.5"/><rect class="h" width="18" height="5.5"/><path class="d" d="M0,11H18M7.2,11V16.5M12.6,11V16.5"/><text class="tn" x="9" y="4.1">supplier</text><text x=".8" y="9.3">...</text><text x=".8" y="15">&lt; 2</text><text class="r" x="17.2" y="15">3 &gt;</text></g>
<g id="inventory_item" transform="translate(376,642)"><rect class="b" width="23" height="16.5"/><rect class="h" width="23" height="5.5"/><path class="d" d="M0,11H23M8.7,11V16.5M13.8,11V16.5M18.4,11V16.5"/><text class="tn" x="11.5" y="4.1">inventory_item</text><text x=".8" y="9.3">...</text><text x=".8" y="15">&lt; 5</text></g>
<g id="stock_transaction_history" transform="translate(369,734)"><rect class="b" width="38" height="16.5"/><rect class="h" width="38" height="5.5"/><path class="d" d="M0,11H38M14.4,11V16.5M22.8,11V16.5M30.4,11V16.5"/><text class="tn" x="19" y="4.1">stock_transaction_history</text><text x=".8" y="9.3">...</text><text x=".8" y="15">&lt; 4</text><text class="r" x="37.2" y="15">1 &gt;</text></g>
<g id="stock_decrease" transform="translate(310,763)"><rect class="b" width="25" height="16.5"/><rect class="h" width="25" height="5.5"/><path class="d" d="M0,11H25M9.5,11V16.5M15,11V16.5M20,11V16.5"/><text class="tn" x="12.5" y="4.1">stock_decrease</text><text x=".8" y="9.3">...</text><text x=".8" y="15">&lt; 9</text><text class="r" x="24.2" y="15">1 &gt;</text></g>
<g id="loan" transform="translate(256,842)"><rect class="b" width="17" height="16.5"/><rect class="h" width="17" height="5.5"/><path class="d" d="M0,11H17M6.8,11V16.5M11.9,11V16.5"/><text class="tn" x="8.5" y="4.1">loan</text><text x=".8" y="9.3">...</text><text x=".8" y="15">&lt; 6</text><text class="r" x="16.2" y="15">1 &gt;</text></g>
<g id="quotation" transform="translate(380,842)"><rect class="b" width="15" height="16.5"/><rect class="h" width="15" height="5.5"/><path class="d" d="M0,11H15M6,11V16.5M10.5,11V16.5"/><text class="tn" x="7.5" y="4.1">quotation</text><text x=".8" y="9.3">...</text><text x=".8" y="15">&lt; 4</text></g>
<g id="purchase_order" transform="translate(310,895)"><rect class="b" width="25" height="16.5"/><rect class="h" width="25" height="5.5"/><path class="d" d="M0,11H25M9.5,11V16.5M15,11V16.5M20,11V16.5"/><text class="tn" x="12.5" y="4.1">purchase_order</text><text x=".8" y="9.3">...</text><text x=".8" y="15">&lt; 7</text><text class="r" x="24.2" y="15">3 &gt;</text></g>
<g id="receiving_order" transform="translate(199,912)"><rect class="b" width="25" height="16.5"/><rect class="h" width="25" height="5.5"/><path class="d" d="M0,11H25M9.5,11V16.5M15,11V16.5M20,11V16.5"/><text class="tn" x="12.5" y="4.1">receiving_order</text><text x=".8" y="9.3">...</text><text x=".8" y="15">&lt; 6</text><text class="r" x="24.2" y="15">2 &gt;</text></g>
<g id="work_order_category" transform="translate(146,936)"><rect class="b" width="33" height="16.5"/><rect class="h" width="33" height="5.5"/><path class="d" d="M0,11H33M12.5,11V16.5M19.8,11V16.5M26.4,11V16.5"/><text class="tn" x="16.5" y="4.1">work_order_category</text><text x=".8" y="9.3">...</text><text x=".8" y="15">&lt; 1</text><text class="r" x="32.2" y="15">1 &gt;</text></g>
<g id="work_order_package" transform="translate(196,983)"><rect class="b" width="33" height="16.5"/><rect class="h" width="33" height="5.5"/><path class="d" d="M0,11H33M12.5,11V16.5M19.8,11V16.5M26.4,11V16.5"/><text class="tn" x="16.5" y="4.1">work_order_package</text><text x=".8" y="9.3">...</text><text x=".8" y="15">&lt; 5</text><text class="r" x="32.2" y="15">1 &gt;</text></g>
<g id="user_profile" transform="translate(52,1007)"><rect class="b" width="20" height="16.5"/><rect class="h" width="20" height="5.5"/><path class="d" d="M0,11H20M8,11V16.5M14,11V16.5"/><text class="tn" x="10" y="4.1">user_profile</text><text x=".8" y="9.3">...</text><text x=".8" y="15">&lt; 1</text><text class="r" x="19.2" y="15">2 &gt;</text></g>
<g id="profile_settings" transform="translate(99,998)"><rect class="b" width="25" height="16.5"/><rect class="h" width="25" height="5.5"/><path class="d" d="M0,11H25M9.5,11V16.5M15,11V16.5M20,11V16.5"/><text class="tn" x="12.5" y="4.1">profile_settings</text><text x=".8" y="9.3">...</text><text x=".8" y="15">&lt; 2</text></g>
<g id="login_user" transform="translate(153,1044)"><rect class="b" width="20" height="16.5"/><rect class="h" width="20" height="5.5"/><path class="d" d="M0,11H20M8,11V16.5M14,11V16.5"/><text class="tn" x="10" y="4.1">login_user</text><text x=".8" y="9.3">...</text><text x=".8" y="15">&lt; 3</text><text class="r" x="19.2" y="15">23 &gt;</text></g>
<g id="client_category" transform="translate(100,1054)"><rect class="b" width="24" height="16.5"/><rect class="h" width="24" height="5.5"/><path class="d" d="M0,11H24M9.1,11V16.5M14.4,11V16.5M19.2,11V16.5"/><text class="tn" x="12" y="4.1">client_category</text><text x=".8" y="9.3">...</text><text x=".8" y="15">&lt; 1</text><text class="r" x="23.2" y="15">4 &gt;</text></g>
<g id="address" transform="translate(103,1084)"><rect class="b" width="18" height="16.5"/><rect class="h" width="18" height="5.5"/><path class="d" d="M0,11H18M7.2,11V16.5M12.6,11V16.5"/><text class="tn" x="9" y="4.1">address</text><text x=".8" y="9.3">...</text><text x=".8" y="15">&lt; 3</text><text class="r" x="17.2" y="15">1 &gt;</text></g>
<g id="transporter" transform="translate(153,1099)"><rect class="b" width="19" height="16.5"/><rect class="h" width="19" height="5.5"/><path class="d" d="M0,11H19M7.6,11V16.5M13.3,11V16.5"/><text class="tn" x="9.5" y="4.1">transporter</text><text x=".8" y="9.3">...</text><text x=".8" y="15">&lt; 2</text><text class="r" x="18.2" y="15">4 &gt;</text></g>
<g id="city_location" transform="translate(102,1156)"><rect class="b" width="21" height="16.5"/><rect class="h" width="21" height="5.5"/><path class="d" d="M0,11H21M8.4,11V16.5M14.7,11V16.5"/><text class="tn" x="10.5" y="4.1">city_location</text><text x=".8" y="9.3">...</text><text x=".8" y="15">&lt; 1</text><text class="r" x="20.2" y="15">2 &gt;</text></g>
<g id="sale_token" transform="translate(154,1155)"><rect class="b" width="18" height="16.5"/><rect class="h" width="18" height="5.5"/><path class="d" d="M0,11H18M7.2,11V16.5M12.6,11V16.5"/><text class="tn" x="9" y="4.1">sale_token</text><text x=".8" y="9.3">...</text><text x=".8" y="15">&lt; 2</text><text class="r" x="17.2" y="15">1 &gt;</text></g>
<g id="person" transform="translate(52,1171)"><rect class="b" width="20" height="16.5"/><rect class="h" width="20" height="5.5"/><path class="d" d="M0,11H20M8,11V16.5M14,11V16.5"/><text class="tn" x="10" y="4.1">person</text><text x=".8" y="9.3">...</text><text x=".8" y="15">&lt; 1</text><text class="r" x="19.2" y="15">17 &gt;</text></g>
<g id="work_order" transform="translate(378,922)"><rect class="b" width="19" height="16.5"/><rect class="h" width="19" height="5.5"/><path class="d" d="M0,11H19M7.6,11V16.5M13.3,11V16.5"/><text class="tn" x="9.5" y="4.1">work_order</text><text x=".8" y="9.3">...</text><text x=".8" y="15">&lt; 10</text><text class="r" x="18.2" y="15">3 &gt;</text></g>
<g id="purchase_receiving_map" transform="translate(369,944)"><rect class="b" width="38" height="16.5"/><rect class="h" width="38" height="5.5"/><path class="d" d="M0,11H38M14.4,11V16.5M22.8,11V16.5M30.4,11V16.5"/><text class="tn" x="19" y="4.1">purchase_receiving_map</text><text x=".8" y="9.3">...</text><text x=".8" y="15">&lt; 3</text></g>
<g id="delivery" transform="translate(442,952)"><rect class="b" width="17" height="16.5"/><rect class="h" width="17" height="5.5"/><path class="d" d="M0,11H17M6.8,11V16.5M11.9,11V16.5"/><text class="tn" x="8.5" y="4.1">delivery</text><text x=".8" y="9.3">...</text><text x=".8" y="15">&lt; 6</text><text class="r" x="16.2" y="15">1 &gt;</text></g>
<g id="work_order_package_item" transform="translate(430,975)"><rect class="b" width="40" height="16.5"/><rect class="h" width="40" height="5.5"/><path class="d" d="M0,11H40M15.2,11V16.5M24,11V16.5M32,11V16.5"/><text class="tn" x="20" y="4.1">work_order_package_item</text><text x=".8" y="9.3">...</text><text x=".8" y="15">&lt; 3</text></g>
<g id="returned_sale" transform="translate(376,1043)"><rect class="b" width="23" height="16.5"/><rect class="h" width="23" height="5.5"/><path class="d" d="M0,11H23M8.7,11V16.5M13.8,11V16.5M18.4,11V16.5"/><text class="tn" x="11.5" y="4.1">returned_sale</text><text x=".8" y="9.3">...</text><text x=".8" y="15">&lt; 8</text><text class="r" x="22.2" y="15">1 &gt;</text></g>
<g id="work_order_history" transform="translate(435,1058)"><rect class="b" width="30" height="16.5"/><rect class="h" width="30" height="5.5"/><path class="d" d="M0,11H30M11.4,11V16.5M18,11V16.5M24,11V16.5"/><text class="tn" x="15" y="4.1">work_order_history</text><text x=".8" y="9.3">...</text><text x=".8" y="15">&lt; 3</text></g>
<g id="till" transform="translate(256,1074)"><rect class="b" width="17" height="16.5"/><rect class="h" width="17" height="5.5"/><path class="d" d="M0,11H17M6.8,11V16.5M11.9,11V16.5"/><text class="tn" x="8.5" y="4.1">till</text><text x=".8" y="9.3">...</text><text x=".8" y="15">&lt; 4</text><text class="r" x="16.2" y="15">1 &gt;</text></g>
<g id="sale" transform="translate(313,1146)"><rect class="b" width="19" height="16.5"/><rect class="h" width="19" height="5.5"/><path class="d" d="M0,11H19M7.6,11V16.5M13.3,11V16.5"/><text class="tn" x="9.5" y="4.1">sale</text><text x=".8" y="9.3">...</text><text x=".8" y="15">&lt; 11</text><text class="r" x="18.2" y="15">7 &gt;</text></g>
<g id="sale_comment" transform="translate(376,1146)"><rect class="b" width="23" height="16.5"/><rect class="h" width="23" height="5.5"/><path class="d" d="M0,11H23M8.7,11V16.5M13.8,11V16.5M18.4,11V16.5"/><text class="tn" x="11.5" y="4.1">sale_comment</text><text x=".8" y="9.3">...</text><text x=".8" y="15">&lt; 3</text></g>
<g id="till_entry" transform="translate(443,1142)"><rect class="b" width="15" height="16.5"/><rect class="h" width="15" height="5.5"/><path class="d" d="M0,11H15M6,11V16.5M10.5,11V16.5"/><text class="tn" x="7.5" y="4.1">till_entry</text><text x=".8" y="9.3">...</text><text x=".8" y="15">&lt; 5</text></g>
<g id="payment_renegotiation" transform="translate(194,1202)"><rect class="b" width="36" height="16.5"/><rect class="h" width="36" height="5.5"/><path class="d" d="M0,11H36M13.7,11V16.5M21.6,11V16.5M28.8,11V16.5"/><text class="tn" x="18" y="4.1">payment_renegotiation</text><text x=".8" y="9.3">...</text><text x=".8" y="15">&lt; 5</text><text class="r" x="35.2" y="15">1 &gt;</text></g>
<g id="company" transform="translate(104,1222)"><rect class="b" width="16" height="16.5"/><rect class="h" width="16" height="5.5"/><path class="d" d="M0,11H16M6.4,11V16.5M11.2,11V16.5"/><text class="tn" x="8" y="4.1">company</text><text x=".8" y="9.3">...</text><text x=".8" y="15">&lt; 2</text></g>
<g id="branch_station" transform="translate(200,1237)"><rect class="b" width="23" height="16.5"/><rect class="h" width="23" height="5.5"/><path class="d" d="M0,11H23M8.7,11V16.5M13.8,11V16.5M18.4,11V16.5"/><text class="tn" x="11.5" y="4.1">branch_station</text><text x=".8" y="9.3">...</text><text x=".8" y="15">&lt; 2</text><text class="r" x="22.2" y="15">8 &gt;</text></g>
<g id="contact_info" transform="translate(102,1245)"><rect class="b" width="20" height="16.5"/><rect class="h" width="20" height="5.5"/><path class="d" d="M0,11H20M8,11V16.5M14,11V16.5"/><text class="tn" x="10" y="4.1">contact_info</text><text x=".8" y="9.3">...</text><text x=".8" y="15">&lt; 2</text></g>
<g id="credit_check_history" transform="translate(196,1259)"><rect class="b" width="32" height="16.5"/><rect class="h" width="32" height="5.5"/><path class="d" d="M0,11H32M12.2,11V16.5M19.2,11V16.5M25.6,11V16.5"/><text class="tn" x="16" y="4.1">credit_check_history</text><text x=".8" y="9.3">...</text><text x=".8" y="15">&lt; 3</text></g>
<g id="individual" transform="translate(104,1268)"><rect class="b" width="16" height="16.5"/><rect class="h" width="16" height="5.5"/><path class="d" d="M0,11H16M6.4,11V16.5M11.2,11V16.5"/><text class="tn" x="8" y="4.1">individual</text><text x=".8" y="9.3">...</text><text x=".8" y="15">&lt; 3</text></g>
<g id="client" transform="translate(154,1292)"><rect class="b" width="18" height="16.5"/><rect class="h" width="18" height="5.5"/><path class="d" d="M0,11H18M7.2,11V16.5M12.6,11V16.5"/><text class="tn" x="9" y="4.1">client</text><text x=".8" y="9.3">...</text><text x=".8" y="15">&lt; 3</text><text class="r" x="17.2" y="15">8 &gt;</text></g>
<g id="client_salary_history" transform="translate(196,1281)"><rect class="b" width="32" height="16.5"/><rect class="h" width="32" height="5.5"/><path class="d" d="M0,11H32M12.2,11V16.5M19.2,11V16.5M25.6,11V16.5"/><text class="tn" x="16" y="4.1">client_salary_history</text><text x=".8" y="9.3">...</text><text x=".8" y="15">&lt; 3</text></g>
<g id="calls" transform="translate(205,1328)"><rect class="b" width="15" height="16.5"/><rect class="h" width="15" height="5.5"/><path class="d" d="M0,11H15M6,11V16.5M10.5,11V16.5"/><text class="tn" x="7.5" y="4.1">calls</text><text x=".8" y="9.3">...</text><text x=".8" y="15">&lt; 3</text></g>
<g id="bank_account" transform="translate(51,1463)"><rect class="b" width="22" height="16.5"/><rect class="h" width="22" height="5.5"/><path class="d" d="M0,11H22M8.8,11V16.5M15.4,11V16.5"/><text class="tn" x="11" y="4.1">bank_account</text><text x=".8" y="9.3">...</text><text x=".8" y="15">&lt; 2</text><text class="r" x="21.2" y="15">3 &gt;</text></g>
<g id="bill_option" transform="translate(104,1479)"><rect class="b" width="17" height="16.5"/><rect class="h" width="17" height="5.5"/><path class="d" d="M0,11H17M6.8,11V16.5M11.9,11V16.5"/><text class="tn" x="8.5" y="4.1">bill_option</text><text x=".8" y="9.3">...</text><text x=".8" y="15">&lt; 2</text></g>
<g id="payment_group" transform="translate(252,1202)"><rect class="b" width="25" height="16.5"/><rect class="h" width="25" height="5.5"/><path class="d" d="M0,11H25M9.5,11V16.5M15,11V16.5M20,11V16.5"/><text class="tn" x="12.5" y="4.1">payment_group</text><text x=".8" y="9.3">...</text><text x=".8" y="15">&lt; 4</text><text class="r" x="24.2" y="15">8 &gt;</text></g>
<g id="fiscal_book_entry" transform="translate(309,1202)"><rect class="b" width="27" height="16.5"/><rect class="h" width="27" height="5.5"/><path class="d" d="M0,11H27M10.3,11V16.5M16.2,11V16.5M21.6,11V16.5"/><text class="tn" x="13.5" y="4.1">fiscal_book_entry</text><text x=".8" y="9.3">...</text><text x=".8" y="15">&lt; 6</text></g>
<g id="cost_center" transform="translate(255,1315)"><rect class="b" width="19" height="16.5"/><rect class="h" width="19" height="5.5"/><path class="d" d="M0,11H19M7.6,11V16.5M13.3,11V16.5"/><text class="tn" x="9.5" y="4.1">cost_center</text><text x=".8" y="9.3">...</text><text x=".8" y="15">&lt; 1</text><text class="r" x="18.2" y="15">4 &gt;</text></g>
<g id="device_settings" transform="translate(252,1346)"><rect class="b" width="25" height="16.5"/><rect class="h" width="25" height="5.5"/><path class="d" d="M0,11H25M9.5,11V16.5M15,11V16.5M20,11V16.5"/><text class="tn" x="12.5" y="4.1">device_settings</text><text x=".8" y="9.3">...</text><text x=".8" y="15">&lt; 2</text><text class="r" x="24.2" y="15">1 &gt;</text></g>
<g id="device_constant" transform="translate(309,1352)"><rect class="b" width="26" height="16.5"/><rect class="h" width="26" height="5.5"/><path class="d" d="M0,11H26M9.9,11V16.5M15.6,11V16.5M20.8,11V16.5"/><text class="tn" x="13" y="4.1">device_constant</text><text x=".8" y="9.3">...</text><text x=".8" y="15">&lt; 2</text></g>
<g id="fiscal_day_history" transform="translate(250,1368)"><rect class="b" width="29" height="16.5"/><rect class="h" width="29" height="5.5"/><path class="d" d="M0,11H29M11,11V16.5M17.4,11V16.5M23.2,11V16.5"/><text class="tn" x="14.5" y="4.1">fiscal_day_history</text><text x=".8" y="9.3">...</text><text x=".8" y="15">&lt; 2</text><text class="r" x="28.2" y="15">1 &gt;</text></g>
<g id="fiscal_day_tax" transform="translate(311,1381)"><rect class="b" width="23" height="16.5"/><rect class="h" width="23" height="5.5"/><path class="d" d="M0,11H23M8.7,11V16.5M13.8,11V16.5M18.4,11V16.5"/><text class="tn" x="11.5" y="4.1">fiscal_day_tax</text><text x=".8" y="9.3">...</text><text x=".8" y="15">&lt; 2</text></g>
<g id="fiscal_sale_history" transform="translate(373,1375)"><rect class="b" width="29" height="16.5"/><rect class="h" width="29" height="5.5"/><path class="d" d="M0,11H29M11,11V16.5M17.4,11V16.5M23.2,11V16.5"/><text class="tn" x="14.5" y="4.1">fiscal_sale_history</text><text x=".8" y="9.3">...</text><text x=".8" y="15">&lt; 2</text></g>
<g id="cost_center_entry" transform="translate(436,1366)"><rect class="b" width="28" height="16.5"/><rect class="h" width="28" height="5.5"/><path class="d" d="M0,11H28M10.6,11V16.5M16.8,11V16.5M22.4,11V16.5"/><text class="tn" x="14" y="4.1">cost_center_entry</text><text x=".8" y="9.3">...</text><text x=".8" y="15">&lt; 4</text></g>
<g id="commission" transform="translate(440,1437)"><rect class="b" width="20" height="16.5"/><rect class="h" width="20" height="5.5"/><path class="d" d="M0,11H20M8,11V16.5M14,11V16.5"/><text class="tn" x="10" y="4.1">commission</text><text x=".8" y="9.3">...</text><text x=".8" y="15">&lt; 4</text></g>
<g id="account" transform="translate(255,1456)"><rect class="b" width="19" height="16.5"/><rect class="h" width="19" height="5.5"/><path class="d" d="M0,11H19M7.6,11V16.5M13.3,11V16.5"/><text class="tn" x="9.5" y="4.1">account</text><text x=".8" y="9.3">...</text><text x=".8" y="15">&lt; 3</text><text class="r" x="18.2" y="15">5 &gt;</text></g>
<g id="account_transaction" transform="translate(434,1460)"><rect class="b" width="32" height="16.5"/><rect class="h" width="32" height="5.5"/><path class="d" d="M0,11H32M12.2,11V16.5M19.2,11V16.5M25.6,11V16.5"/><text class="tn" x="16" y="4.1">account_transaction</text><text x=".8" y="9.3">...</text><text x=".8" y="15">&lt; 4</text></g>
<g id="payment_method" transform="translate(309,1479)"><rect class="b" width="27" height="16.5"/><rect class="h" width="27" height="5.5"/><path class="d" d="M0,11H27M10.3,11V16.5M16.2,11V16.5M21.6,11V16.5"/><text class="tn" x="13.5" y="4.1">payment_method</text><text x=".8" y="9.3">...</text><text x=".8" y="15">&lt; 2</text><text class="r" x="26.2" y="15">1 &gt;</text></g>
<g id="payment" transform="translate(379,1481)"><rect class="b" width="18" height="16.5"/><rect class="h" width="18" height="5.5"/><path class="d" d="M0,11H18M7.2,11V16.5M12.6,11V16.5"/><text class="tn" x="9" y="4.1">payment</text><text x=".8" y="9.3">...</text><text x=".8" y="15">&lt; 8</text><text class="r" x="17.2" y="15">8 &gt;</text></g>
<g id="payment_comment" transform="translate(435,1482)"><rect class="b" width="30" height="16.5"/><rect class="h" width="30" height="5.5"/><path class="d" d="M0,11H30M11.4,11V16.5M18,11V16.5M24,11V16.5"/><text class="tn" x="15" y="4.1">payment_comment</text><text x=".8" y="9.3">...</text><text x=".8" y="15">&lt; 3</text></g>
<g id="attachment" transform="translate(153,1502)"><rect class="b" width="19" height="16.5"/><rect class="h" width="19" height="5.5"/><path class="d" d="M0,11H19M7.6,11V16.5M13.3,11V16.5"/><text class="tn" x="9.5" y="4.1">attachment</text><text x=".8" y="9.3">...</text><text x=".8" y="15">&lt; 1</text><text class="r" x="18.2" y="15">1 &gt;</text></g>
<g id="payment_category" transform="translate(148,1524)"><rect class="b" width="29" height="16.5"/><rect class="h" width="29" height="5.5"/><path class="d" d="M0,11H29M11,11V16.5M17.4,11V16.5M23.2,11V16.5"/><text class="tn" x="14.5" y="4.1">payment_category</text><text x=".8" y="9.3">...</text><text x=".8" y="15">&lt; 1</text><text class="r" x="28.2" y="15">1 &gt;</text></g>
<g id="card_payment_device" transform="translate(45,1572)"><rect class="b" width="34" height="16.5"/><rect class="h" width="34" height="5.5"/><path class="d" d="M0,11H34M12.9,11V16.5M20.4,11V16.5M27.2,11V16.5"/><text class="tn" x="17" y="4.1">card_payment_device</text><text x=".8" y="9.3">...</text><text x=".8" y="15">&lt; 1</text><text class="r" x="33.2" y="15">3 &gt;</text></g>
<g id="card_operation_cost" transform="translate(147,1580)"><rect class="b" width="31" height="16.5"/><rect class="h" width="31" height="5.5"/><path class="d" d="M0,11H31M11.8,11V16.5M18.6,11V16.5M24.8,11V16.5"/><text class="tn" x="15.5" y="4.1">card_operation_cost</text><text x=".8" y="9.3">...</text><text x=".8" y="15">&lt; 3</text></g>
<g id="credit_provider" transform="translate(101,1588)"><rect class="b" width="23" height="16.5"/><rect class="h" width="23" height="5.5"/><path class="d" d="M0,11H23M8.7,11V16.5M13.8,11V16.5M18.4,11V16.5"/><text class="tn" x="11.5" y="4.1">credit_provider</text><text x=".8" y="9.3">...</text><text x=".8" y="15">&lt; 2</text><text class="r" x="22.2" y="15">3 &gt;</text></g>
<g id="installed_plugin" transform="translate(50,1618)"><rect class="b" width="24" height="16.5"/><rect class="h" width="24" height="5.5"/><path class="d" d="M0,11H24M9.1,11V16.5M14.4,11V16.5M19.2,11V16.5"/><text class="tn" x="12" y="4.1">installed_plugin</text><text x=".8" y="9.3">...</text><text x=".8" y="15">&lt; 1</text></g>
<g id="invoice_field" transform="translate(102,1634)"><rect class="b" width="20" height="16.5"/><rect class="h" width="20" height="5.5"/><path class="d" d="M0,11H20M8,11V16.5M14,11V16.5"/><text class="tn" x="10" y="4.1">invoice_field</text><text x=".8" y="9.3">...</text><text x=".8" y="15">&lt; 2</text></g>
<g id="invoice_layout" transform="translate(51,1649)"><rect class="b" width="22" height="16.5"/><rect class="h" width="22" height="5.5"/><path class="d" d="M0,11H22M8.8,11V16.5M15.4,11V16.5"/><text class="tn" x="11" y="4.1">invoice_layout</text><text x=".8" y="9.3">...</text><text x=".8" y="15">&lt; 1</text><text class="r" x="21.2" y="15">2 &gt;</text></g>
<g id="parameter_data" transform="translate(49,1680)"><rect class="b" width="25" height="16.5"/><rect class="h" width="25" height="5.5"/><path class="d" d="M0,11H25M9.5,11V16.5M15,11V16.5M20,11V16.5"/><text class="tn" x="12.5" y="4.1">parameter_data</text><text x=".8" y="9.3">...</text><text x=".8" y="15">&lt; 1</text></g>
<g id="payment_flow_history" transform="translate(45,1703)"><rect class="b" width="34" height="16.5"/><rect class="h" width="34" height="5.5"/><path class="d" d="M0,11H34M12.9,11V16.5M20.4,11V16.5M27.2,11V16.5"/><text class="tn" x="17" y="4.1">payment_flow_history</text><text x=".8" y="9.3">...</text><text x=".8" y="15">&lt; 1</text></g>
<g id="plugin_egg" transform="translate(52,1726)"><rect class="b" width="19" height="16.5"/><rect class="h" width="19" height="5.5"/><path class="d" d="M0,11H19M7.6,11V16.5M13.3,11V16.5"/><text class="tn" x="9.5" y="4.1">plugin_egg</text><text x=".8" y="9.3">...</text><text x=".8" y="15">&lt; 1</text></g>
<g id="ui_field" transform="translate(105,1748)"><rect class="b" width="15" height="16.5"/><rect class="h" width="15" height="5.5"/><path class="d" d="M0,11H15M6,11V16.5M10.5,11V16.5"/><text class="tn" x="7.5" y="4.1">ui_field</text><text x=".8" y="9.3">...</text><text x=".8" y="15">&lt; 2</text></g>
<g id="ui_form" transform="translate(53,1756)"><rect class="b" width="18" height="16.5"/><rect class="h" width="18" height="5.5"/><path class="d" d="M0,11H18M7.2,11V16.5M12.6,11V16.5"/><text class="tn" x="9" y="4.1">ui_form</text><text x=".8" y="9.3">...</text><text x=".8" y="15">&lt; 1</text><text class="r" x="17.2" y="15">1 &gt;</text></g>
<g id="check_data" transform="translate(441,1539)"><rect class="b" width="19" height="16.5"/><rect class="h" width="19" height="5.5"/><path class="d" d="M0,11H19M7.6,11V16.5M13.3,11V16.5"/><text class="tn" x="9.5" y="4.1">check_data</text><text x=".8" y="9.3">...</text><text x=".8" y="15">&lt; 3</text></g>
<g id="credit_card_data" transform="translate(437,1576)"><rect class="b" width="27" height="16.5"/><rect class="h" width="27" height="5.5"/><path class="d" d="M0,11H27M10.3,11V16.5M16.2,11V16.5M21.6,11V16.5"/><text class="tn" x="13.5" y="4.1">credit_card_data</text><text x=".8" y="9.3">...</text><text x=".8" y="15">&lt; 4</text></g>
<g id="payment_change_history" transform="translate(431,1604)"><rect class="b" width="39" height="16.5"/><rect class="h" width="39" height="5.5"/><path class="d" d="M0,11H39M14.8,11V16.5M23.4,11V16.5M31.2,11V16.5"/><text class="tn" x="19.5" y="4.1">payment_change_history</text><text x=".8" y="9.3">...</text><text x=".8" y="15">&lt; 2</text></g>
<g id="invoice_printer" transform="translate(253,1649)"><rect class="b" width="23" height="16.5"/><rect class="h" width="23" height="5.5"/><path class="d" d="M0,11H23M8.7,11V16.5M13.8,11V16.5M18.4,11V16.5"/><text class="tn" x="11.5" y="4.1">invoice_printer</text><text x=".8" y="9.3">...</text><text x=".8" y="15">&lt; 3</text></g>

<g id="sellable" transform="translate(147,256)"><rect class="b" width="32" height="112"/><rect class="h" width="32" height="5.33"/><rect class="pk" y="5.33" width="32" height="5.33"/><rect class="ix" y="10.66" width="32" height="5.33"/><rect class="ix" y="32" width="32" height="5.33"/><rect class="ix" y="80" width="32" height="5.33"/><path class="d" d="M0,5.3H32M0,10.7H32M0,16H32M0,21.3H32M0,26.7H32M0,32H32M0,37.3H32M0,42.6H32M0,48H32M0,53.3H32M0,58.6H32M0,64H32M0,69.3H32M0,74.6H32M0,80H32M0,85.3H32M0,90.6H32M0,96H32M0,101.3H32M0,106.6H32M12.2,106.6V112M19.2,106.6V112M25.6,106.6V112"/><rect width="32" height="112" fill="none" stroke="#6f6f6f" stroke-width=".35"/><text class="tn" x="16" y="3.9">sellable</text><text x=".8" y="9.1">id</text><text x=".8" y="14.5">te_id</text><text x=".8" y="19.8">barcode</text><text x=".8" y="25.1">code</text><text x=".8" y="30.5">status</text><text x=".8" y="35.8">description</text><text x=".8" y="41.1">cost</text><text x=".8" y="46.4">base_price</text><text x=".8" y="51.8">notes</text><text x=".8" y="57.1">max_discount</text><text x=".8" y="62.4">commission</text><text x=".8" y="67.8">on_sale_price</text><text x=".8" y="73.1">on_sale_start_date</text><text x=".8" y="78.4">on_sale_end_date</text><text x=".8" y="83.8">image_id</text><text x=".8" y="89.1">unit_id</text><text x=".8" y="94.4">category_id</text><text x=".8" y="99.8">tax_constant_id</text><text x=".8" y="105.1">default_sale_cfop_id</text><text x=".8" y="110.5">&lt; 6</text><text class="r" x="31.2" y="110.5">14 &gt;</text></g>

<g id="invoice_item_cofins" transform="translate(307,165)"><rect class="b" width="30" height="53"/><rect class="h" width="30" height="5.3"/><rect class="pk" y="5.3" width="30" height="5.3"/><rect class="ix" y="10.6" width="30" height="5.3"/><path class="d" d="M0,5.3H30M0,10.6H30M0,15.9H30M0,21.2H30M0,26.5H30M0,31.8H30M0,37.1H30M0,42.4H30M0,47.7H30M11.4,47.7V53M18,47.7V53M24,47.7V53"/><rect width="30" height="53" fill="none" stroke="#6f6f6f" stroke-width=".35"/><text class="tn" x="15" y="3.9">invoice_item_cofins</text><text x=".8" y="9.1">id</text><text x=".8" y="14.4">te_id</text><text x=".8" y="19.7">cst</text><text x=".8" y="25">calculo</text><text x=".8" y="30.3">v_bc</text><text x=".8" y="35.6">p_cofins</text><text x=".8" y="40.9">q_bc_prod</text><text x=".8" y="46.2">v_cofins</text><text x=".8" y="51.5">&lt; 1</text><text class="r" x="29.2" y="51.5">4 &gt;</text></g>

<g id="invoice_item_pis" transform="translate(309,233)"><rect class="b" width="26" height="53"/><rect class="h" width="26" height="5.3"/><rect class="pk" y="5.3" width="26" height="5.3"/><rect class="ix" y="10.6" width="26" height="5.3"/><path class="d" d="M0,5.3H26M0,10.6H26M0,15.9H26M0,21.2H26M0,26.5H26M0,31.8H26M0,37.1H26M0,42.4H26M0,47.7H26M9.9,47.7V53M15.6,47.7V53M20.8,47.7V53"/><rect width="26" height="53" fill="none" stroke="#6f6f6f" stroke-width=".35"/><text class="tn" x="13" y="3.9">invoice_item_pis</text><text x=".8" y="9.1">id</text><text x=".8" y="14.4">te_id</text><text x=".8" y="19.7">cst</text><text x=".8" y="25">calculo</text><text x=".8" y="30.3">v_bc</text><text x=".8" y="35.6">p_pis</text><text x=".8" y="40.9">q_bc_prod</text><text x=".8" y="46.2">v_pis</text><text x=".8" y="51.5">&lt; 1</text><text class="r" x="25.2" y="51.5">4 &gt;</text></g>

<g id="invoice_item_icms" transform="translate(308,302)"><rect class="b" width="28" height="128"/><rect class="h" width="28" height="5.33"/><rect class="pk" y="5.33" width="28" height="5.33"/><rect class="ix" y="10.66" width="28" height="5.33"/><path class="d" d="M0,5.3H28M0,10.7H28M0,16H28M0,21.3H28M0,26.7H28M0,32H28M0,37.3H28M0,42.6H28M0,48H28M0,53.3H28M0,58.6H28M0,64H28M0,69.3H28M0,74.6H28M0,80H28M0,85.3H28M0,90.6H28M0,96H28M0,101.3H28M0,106.6H28M0,112H28M0,117.3H28M0,122.6H28M10.6,122.6V128M16.8,122.6V128M22.4,122.6V128"/><rect width="28" height="128" fill="none" stroke="#6f6f6f" stroke-width=".35"/><text class="tn" x="14" y="3.9">invoice_item_icms</text><text x=".8" y="9.1">id</text><text x=".8" y="14.5">te_id</text><text x=".8" y="19.8">bc_include_ipi</text><text x=".8" y="25.1">bc_st_include_ipi</text><text x=".8" y="30.5">cst</text><text x=".8" y="35.8">csosn</text><text x=".8" y="41.1">mod_bc</text><text x=".8" y="46.4">mod_bc_st</text><text x=".8" y="51.8">orig</text><text x=".8" y="57.1">p_cred_sn</text><text x=".8" y="62.4">p_icms</text><text x=".8" y="67.8">p_icms_st</text><text x=".8" y="73.1">p_mva_st</text><text x=".8" y="78.4">p_red_bc</text><text x=".8" y="83.8">p_red_bc_st</text><text x=".8" y="89.1">v_bc</text><text x=".8" y="94.4">v_bc_st</text><text x=".8" y="99.8">v_bc_st_ret</text><text x=".8" y="105.1">v_cred_icms_sn</text><text x=".8" y="110.4">v_icms</text><text x=".8" y="115.7">v_icms_st</text><text x=".8" y="121.1">v_icms_st_ret</text><text x=".8" y="126.4">&lt; 1</text><text class="r" x="27.2" y="126.4">6 &gt;</text></g>

<g id="invoice_item_ipi" transform="translate(310,437)"><rect class="b" width="25" height="84.8"/><rect class="h" width="25" height="5.3"/><rect class="pk" y="5.3" width="25" height="5.3"/><rect class="ix" y="10.6" width="25" height="5.3"/><path class="d" d="M0,5.3H25M0,10.6H25M0,15.9H25M0,21.2H25M0,26.5H25M0,31.8H25M0,37.1H25M0,42.4H25M0,47.7H25M0,53H25M0,58.3H25M0,63.6H25M0,68.9H25M0,74.2H25M0,79.5H25M9.5,79.5V84.8M15,79.5V84.8M20,79.5V84.8"/><rect width="25" height="84.8" fill="none" stroke="#6f6f6f" stroke-width=".35"/><text class="tn" x="12.5" y="3.9">invoice_item_ipi</text><text x=".8" y="9.1">id</text><text x=".8" y="14.4">te_id</text><text x=".8" y="19.7">cl_enq</text><text x=".8" y="25">cnpj_prod</text><text x=".8" y="30.3">c_selo</text><text x=".8" y="35.6">q_selo</text><text x=".8" y="40.9">c_enq</text><text x=".8" y="46.2">cst</text><text x=".8" y="51.5">v_ipi</text><text x=".8" y="56.8">calculo</text><text x=".8" y="62.1">v_bc</text><text x=".8" y="67.4">p_ipi</text><text x=".8" y="72.7">q_unid</text><text x=".8" y="78">v_unid</text><text x=".8" y="83.3">&lt; 1</text><text class="r" x="24.2" y="83.3">6 &gt;</text></g>

<g id="transfer_order" transform="translate(244,426)"><rect class="b" width="41" height="91"/><rect class="h" width="41" height="5.35"/><rect class="pk" y="5.35" width="41" height="5.35"/><rect class="ix" y="10.7" width="41" height="5.35"/><rect class="ix" y="16.05" width="41" height="5.35"/><rect class="ix" y="37.45" width="41" height="5.35"/><path class="d" d="M0,5.35H41M0,10.7H41M0,16.05H41M0,21.4H41M0,26.75H41M0,32.1H41M0,37.45H41M0,42.8H41M0,48.15H41M0,53.5H41M0,58.85H41M0,64.2H41M0,69.55H41M0,74.9H41M0,80.25H41M0,85.6H41M15.6,85.6V91M24.6,85.6V91M32.8,85.6V91"/><rect width="41" height="91" fill="none" stroke="#6f6f6f" stroke-width=".35"/><text class="tn" x="20.5" y="3.9">transfer_order</text><text x=".8" y="9.2">id</text><text x=".8" y="14.55">te_id</text><text x=".8" y="19.9">identifier</text><text x=".8" y="25.25">open_date</text><text x=".8" y="30.6">receival_date</text><text x=".8" y="35.95">status</text><text x=".8" y="41.3">source_branch_id</text><text x=".8" y="46.65">destination_branch_id</text><text x=".8" y="52">source_responsible_id</text><text x=".8" y="57.35">destination_responsible_id</text><text x=".8" y="62.7">invoice_number</text><text x=".8" y="68.05">comments</text><text x=".8" y="73.4">invoice_id</text><text x=".8" y="78.75">cancel_date</text><text x=".8" y="84.1">cancel_responsible_id</text><text x=".8" y="89.45">&lt; 7</text><text class="r" x="40.2" y="89.45">1 &gt;</text></g>

<g id="storable_batch" transform="translate(310,577)"><rect class="b" width="24" height="48"/><rect class="h" width="24" height="5.33"/><rect class="pk" y="5.33" width="24" height="5.33"/><rect class="ix" y="10.67" width="24" height="5.33"/><rect class="ix" y="16" width="24" height="5.33"/><path class="d" d="M0,5.33H24M0,10.67H24M0,16H24M0,21.33H24M0,26.67H24M0,32H24M0,37.33H24M0,42.67H24M9.1,42.67V48M14.4,42.67V48M19.2,42.67V48"/><rect width="24" height="48" fill="none" stroke="#6f6f6f" stroke-width=".35"/><text class="tn" x="12" y="3.9">storable_batch</text><text x=".8" y="9.1">id</text><text x=".8" y="14.5">te_id</text><text x=".8" y="19.8">batch_number</text><text x=".8" y="25.1">create_date</text><text x=".8" y="30.5">expire_date</text><text x=".8" y="35.8">notes</text><text x=".8" y="41.1">storable_id</text><text x=".8" y="46.4">&lt; 2</text><text class="r" x="23.2" y="46.4">10 &gt;</text></g>

<g id="transaction_entry" transform="translate(3,906)"><rect class="b" width="28" height="27"/><rect class="h" width="28" height="5.4"/><rect class="pk" y="5.4" width="28" height="5.4"/><path class="d" d="M0,5.4H28M0,10.8H28M0,16.2H28M0,21.6H28M10.6,21.6V27M16.8,21.6V27M22.4,21.6V27"/><rect width="28" height="27" fill="none" stroke="#6f6f6f" stroke-width=".35"/><text class="tn" x="14" y="4">transaction_entry</text><text x=".8" y="9.3">id</text><text x=".8" y="14.7">te_time</text><text x=".8" y="20.1">dirty</text><text class="r" x="27.2" y="25.5">136 &gt;</text></g>

<g id="transfer_order_item" transform="translate(360,170)"><rect class="b" width="55" height="71"/><rect class="h" width="55" height="5.46" fill="#8fa08a"/><rect class="pk" y="5.46" width="55" height="5.46"/><rect class="ix" y="10.92" width="55" height="5.46"/><path class="d" d="M0,5.46H55M0,10.92H55M0,16.38H55M0,21.84H55M0,27.3H55M0,32.76H55M0,38.22H55M0,43.68H55M0,49.14H55M0,54.6H55M0,60.06H55M0,65.52H55M29,5.46V65.52M29,65.52V71"/><rect width="55" height="71" fill="none" stroke="#2a2a2a" stroke-width=".8"/><text class="tn" x="27.5" y="4">transfer_order_item</text><text x=".8" y="9.4">id</text><text x="29.8" y="9.4">uuid[2147483647]</text><text x=".8" y="14.8">te_id</text><text x="29.8" y="14.8">int8[19]</text><text x=".8" y="20.3">sellable_id</text><text x="29.8" y="20.3">uuid[2147483647]</text><text x=".8" y="25.7">batch_id</text><text x="29.8" y="25.7">uuid[2147483647]</text><text x=".8" y="31.2">transfer_order_id</text><text x="29.8" y="31.2">uuid[2147483647]</text><text x=".8" y="36.7">quantity</text><text x="29.8" y="36.7">numeric[20,3]</text><text x=".8" y="42.1">stock_cost</text><text x="29.8" y="42.1">numeric[20,8]</text><text x=".8" y="47.6">icms_info_id</text><text x="29.8" y="47.6">uuid[2147483647]</text><text x=".8" y="53">ipi_info_id</text><text x="29.8" y="53">uuid[2147483647]</text><text x=".8" y="58.5">pis_info_id</text><text x="29.8" y="58.5">uuid[2147483647]</text><text x=".8" y="64">cofins_info_id</text><text x="29.8" y="64">uuid[2147483647]</text><text x=".8" y="69.4">&lt; 8</text></g>
</g>
<text x="3" y="1781.5" style="font-size:3.2px;fill:#333">Generated by SchemaSpy</text>
</svg>
